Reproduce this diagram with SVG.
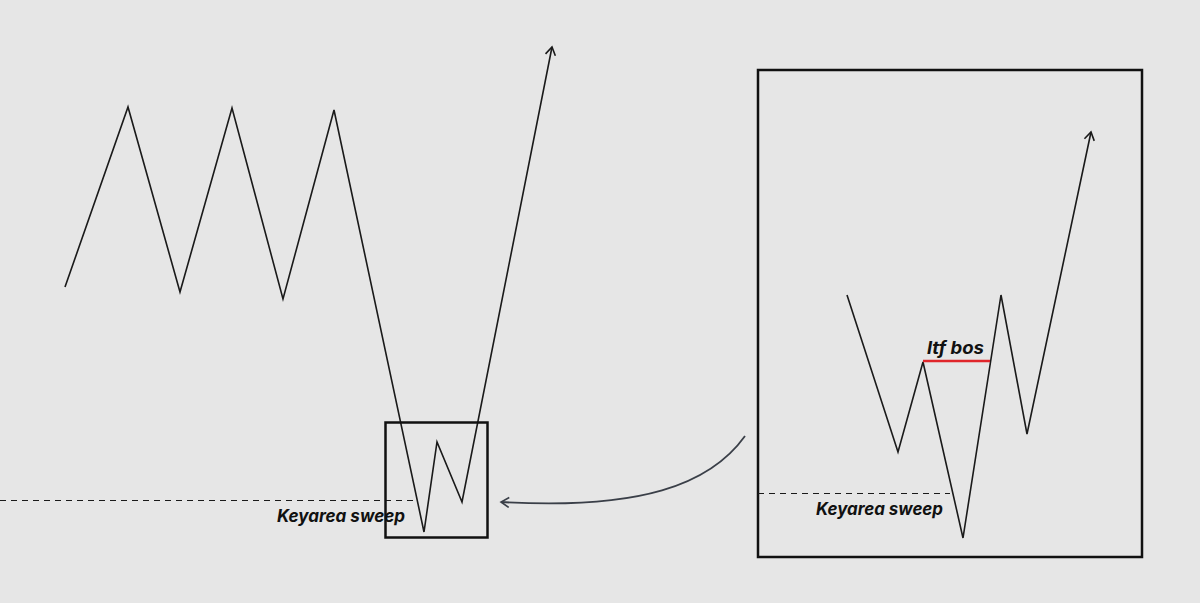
<svg xmlns="http://www.w3.org/2000/svg" width="1200" height="603" viewBox="0 0 1200 603">
<defs>
<style>
.ln{fill:none;stroke:#1a1a1a;stroke-width:1.6;stroke-linejoin:miter}
.box{fill:none;stroke:#111;stroke-width:2.5}
.dash{fill:none;stroke:#1a1a1a;stroke-width:1.2;stroke-dasharray:6,5}
.lbl{font-family:"Inter","Liberation Sans",sans-serif;font-weight:bold;font-style:italic;font-size:17px;fill:#111}
</style>
<marker id="open" viewBox="0 0 12 12" refX="10" refY="6" markerWidth="12" markerHeight="12" markerUnits="userSpaceOnUse" orient="auto">
<path d="M2,1 L10,6 L2,11" fill="none" stroke="#1a1a1a" stroke-width="1.6"/>
</marker>
<marker id="open2" viewBox="0 0 12 12" refX="10" refY="6" markerWidth="12" markerHeight="12" markerUnits="userSpaceOnUse" orient="auto">
<path d="M2,1 L10,6 L2,11" fill="none" stroke="#3a3f48" stroke-width="1.6"/>
</marker>
</defs>
<rect width="1200" height="603" fill="#e6e6e6"/>
<g id="left-chart">
<polyline class="ln" points="65,287 128,107 180,292 232,108 283,299 334,110 424,532 437,442 462,502 552,47" marker-end="url(#open)"/>
<line class="dash" x1="0" y1="500.5" x2="414" y2="500.5"/>
<text class="lbl" x="277" y="522" textLength="128" lengthAdjust="spacingAndGlyphs">Keyarea sweep</text>
</g>
<g id="zoom-box">
<rect class="box" x="385.5" y="422.5" width="102" height="115"/>
</g>
<g id="right-panel">
<rect class="box" x="758" y="70" width="384" height="487"/>
<polyline class="ln" points="847,295 898,452 923,362 963,538 1001,295 1027,434 1091,132" marker-end="url(#open)"/>
<line x1="923" y1="361" x2="990" y2="361" stroke="#e0262b" stroke-width="2.4"/>
<text class="lbl" x="927" y="354" textLength="57" lengthAdjust="spacingAndGlyphs">ltf bos</text>
<line class="dash" x1="758" y1="493.5" x2="950" y2="493.5"/>
<text class="lbl" x="816" y="515" textLength="127" lengthAdjust="spacingAndGlyphs">Keyarea sweep</text>
</g>
<g id="connectors">
<path d="M745,436 C710,485 640,510 501,502" fill="none" stroke="#3a3f48" stroke-width="1.8" marker-end="url(#open2)"/>
</g>
</svg>
